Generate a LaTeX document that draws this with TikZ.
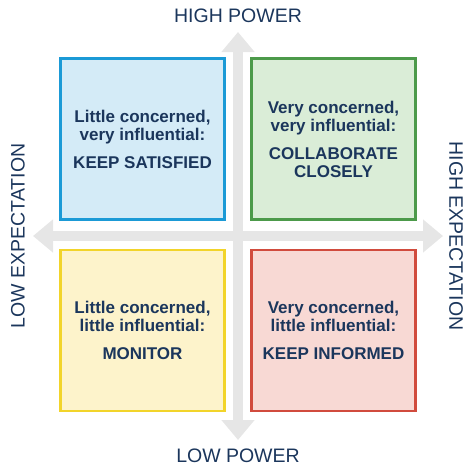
\documentclass[tikz,border=0pt]{standalone}
\usepackage{fontspec}
\setmainfont{Liberation Sans}
\usetikzlibrary{arrows.meta}

\definecolor{navy}{HTML}{1B365C}
\definecolor{axisgray}{HTML}{E6E6E6}
\definecolor{blueline}{HTML}{1B9AD6}
\definecolor{bluefill}{HTML}{D4EBF7}
\definecolor{greenline}{HTML}{4C9A4A}
\definecolor{greenfill}{HTML}{DAEDD7}
\definecolor{yellowline}{HTML}{F2D42A}
\definecolor{yellowfill}{HTML}{FDF3CB}
\definecolor{redline}{HTML}{D14B3D}
\definecolor{redfill}{HTML}{F8D9D4}

\tikzset{
  quad/.style={draw, line width=2.6pt, minimum width=164pt, minimum height=161pt,
    inner sep=0pt, text=navy, font=\bfseries\fontsize{17}{18}\selectfont,
    align=center},
  axis/.style={line width=10pt, draw=axisgray,
    {Triangle[width=32pt,length=20pt]}-{Triangle[width=32pt,length=20pt]}},
  lbl/.style={text=navy, font=\fontsize{19.5}{22}\selectfont}
}

\begin{document}
\begin{tikzpicture}[x=1pt,y=-1pt]
\useasboundingbox (0,0) rectangle (474,471);

% axes
\coordinate (top) at (238,32);
\coordinate (bottom) at (238,440);
\coordinate (left) at (33,236);
\coordinate (right) at (443,236);
\draw[axis] (bottom) -- (top);
\draw[axis] (left) -- (right);

% quadrants
\node[quad, draw=blueline, fill=bluefill] (ks) at (142.5,139)
  {Little concerned,\\very influential:\\[10pt]KEEP SATISFIED};
\node[quad, draw=greenline, fill=greenfill] (cc) at (333.5,139)
  {Very concerned,\\very influential:\\[10pt]COLLABORATE\\CLOSELY};
\node[quad, draw=yellowline, fill=yellowfill] (mo) at (142.5,330.5)
  {Little concerned,\\little influential:\\[10pt]MONITOR};
\node[quad, draw=redline, fill=redfill] (ki) at (333.5,330.5)
  {Very concerned,\\little influential:\\[10pt]KEEP INFORMED};

% axis labels
\node[lbl] (hp) at (238,16) {HIGH POWER};
\node[lbl] (lp) at (238,456) {LOW POWER};
\node[lbl, rotate=90] (le) at (18,236) {LOW EXPECTATION};
\node[lbl, rotate=-90] (he) at (456,236) {HIGH EXPECTATION};
\end{tikzpicture}
\end{document}
